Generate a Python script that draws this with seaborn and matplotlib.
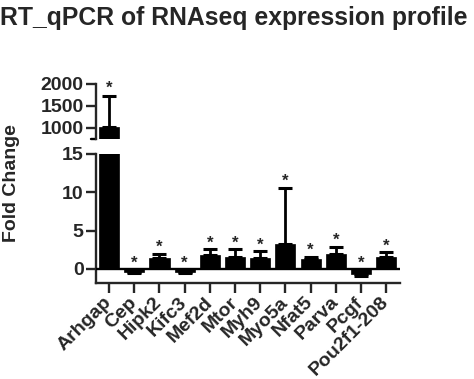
import matplotlib
matplotlib.use("Agg")
import matplotlib.pyplot as plt
import seaborn as sns
import pandas as pd
import numpy as np

sns.set_style("ticks")
plt.rcParams['font.family'] = ['Liberation Sans', 'DejaVu Sans']
plt.rcParams['font.weight'] = 'bold'

genes = ["Arhgap", "Cep", "Hipk2", "Kifc3", "Mef2d", "Mtor", "Myh9",
         "Myo5a", "Nfat5", "Parva", "Pcgf", "Pou2f1-208"]
fold_change = [1030, -0.35, 1.4, -0.4, 1.8, 1.6, 1.4, 3.3, 1.3, 1.9, -0.6, 1.6]
error = [700, 0.15, 0.6, 0.15, 0.8, 1.0, 0.9, 7.3, 0.3, 1.0, 0.3, 0.6]
title = "RT_qPCR of RNAseq expression profile"
ylabel = "Fold Change"

df = pd.DataFrame({"gene": genes, "fc": fold_change, "err": error})

fig = plt.figure(figsize=(4.74, 3.79), dpi=100)
left, width = 96/474, (400-96)/474
ax_top = fig.add_axes([left, 1-139/379, width, 55/379])
ax_bot = fig.add_axes([left, 1-283/379, width, 129/379])

lw = 1.7
for ax in (ax_top, ax_bot):
    sns.barplot(data=df, x="gene", y="fc", order=genes, color="black",
                saturation=1, width=0.8, errorbar=None, ax=ax,
                edgecolor="black", linewidth=0.5)
    x = np.arange(len(genes))
    fc = np.array(fold_change)
    err = np.array(error)
    lower = np.where(fc < 0, err, 0)
    upper = np.where(fc >= 0, err, 0)
    ax.errorbar(x, fc, yerr=[lower, upper], fmt="none", ecolor="black",
                elinewidth=2.0, capsize=5, capthick=2.2, zorder=5)
    ax.set_xlim(-0.52, 11.55)
    ax.set_xlabel("")
    ax.set_ylabel("")
    ax.spines["top"].set_visible(False)
    ax.spines["right"].set_visible(False)
    ax.spines["left"].set_linewidth(lw)
    ax.spines["bottom"].set_linewidth(lw)
    ax.tick_params(axis="both", width=lw, length=7, labelsize=14, pad=2)

# top axis (broken part)
ax_top.set_ylim(750, 2000)
ax_top.set_yticks([1000, 1500, 2000])
ax_top.set_yticklabels(["1000", "1500", "2000"], fontweight="bold", fontsize=14)
ax_top.spines["bottom"].set_visible(False)
ax_top.set_xticks([])
ax_top.plot([-0.52 - 0.2, -0.52], [750, 750], color="black", lw=lw,
            clip_on=False)

# bottom axis
ax_bot.set_ylim(-1.83, 15)
ax_bot.set_yticks([0, 5, 10, 15])
ax_bot.set_yticklabels(["0", "5", "10", "15"], fontweight="bold", fontsize=14)
ax_bot.axhline(0, color="black", lw=lw, zorder=6)
ax_bot.set_xticks(range(len(genes)))
ax_bot.set_xticklabels(genes, rotation=45, ha="right", va="center",
                       rotation_mode="anchor", fontweight="bold", fontsize=14)
ax_bot.tick_params(axis="x", pad=5)

# significance stars
for i, (v, e) in enumerate(zip(fold_change, error)):
    if i == 0:
        ax_top.text(i, v + e + 180, "*", ha="center", va="center", fontsize=12,
                    fontweight="bold")
    elif v >= 0:
        ax_bot.text(i, v + e + 0.8, "*", ha="center", va="center", fontsize=12,
                    fontweight="bold")
    else:
        ax_bot.text(i, 0.8, "*", ha="center", va="center", fontsize=12,
                    fontweight="bold")

fig.text(0.0, 1 - 18/379, title, fontsize=17.8, fontweight="bold",
         ha="left", va="center")
fig.text(12/474, 1 - 183/379, ylabel, fontsize=14, fontweight="bold",
         rotation=90, ha="center", va="center")

fig.savefig("out.png", dpi=100)
